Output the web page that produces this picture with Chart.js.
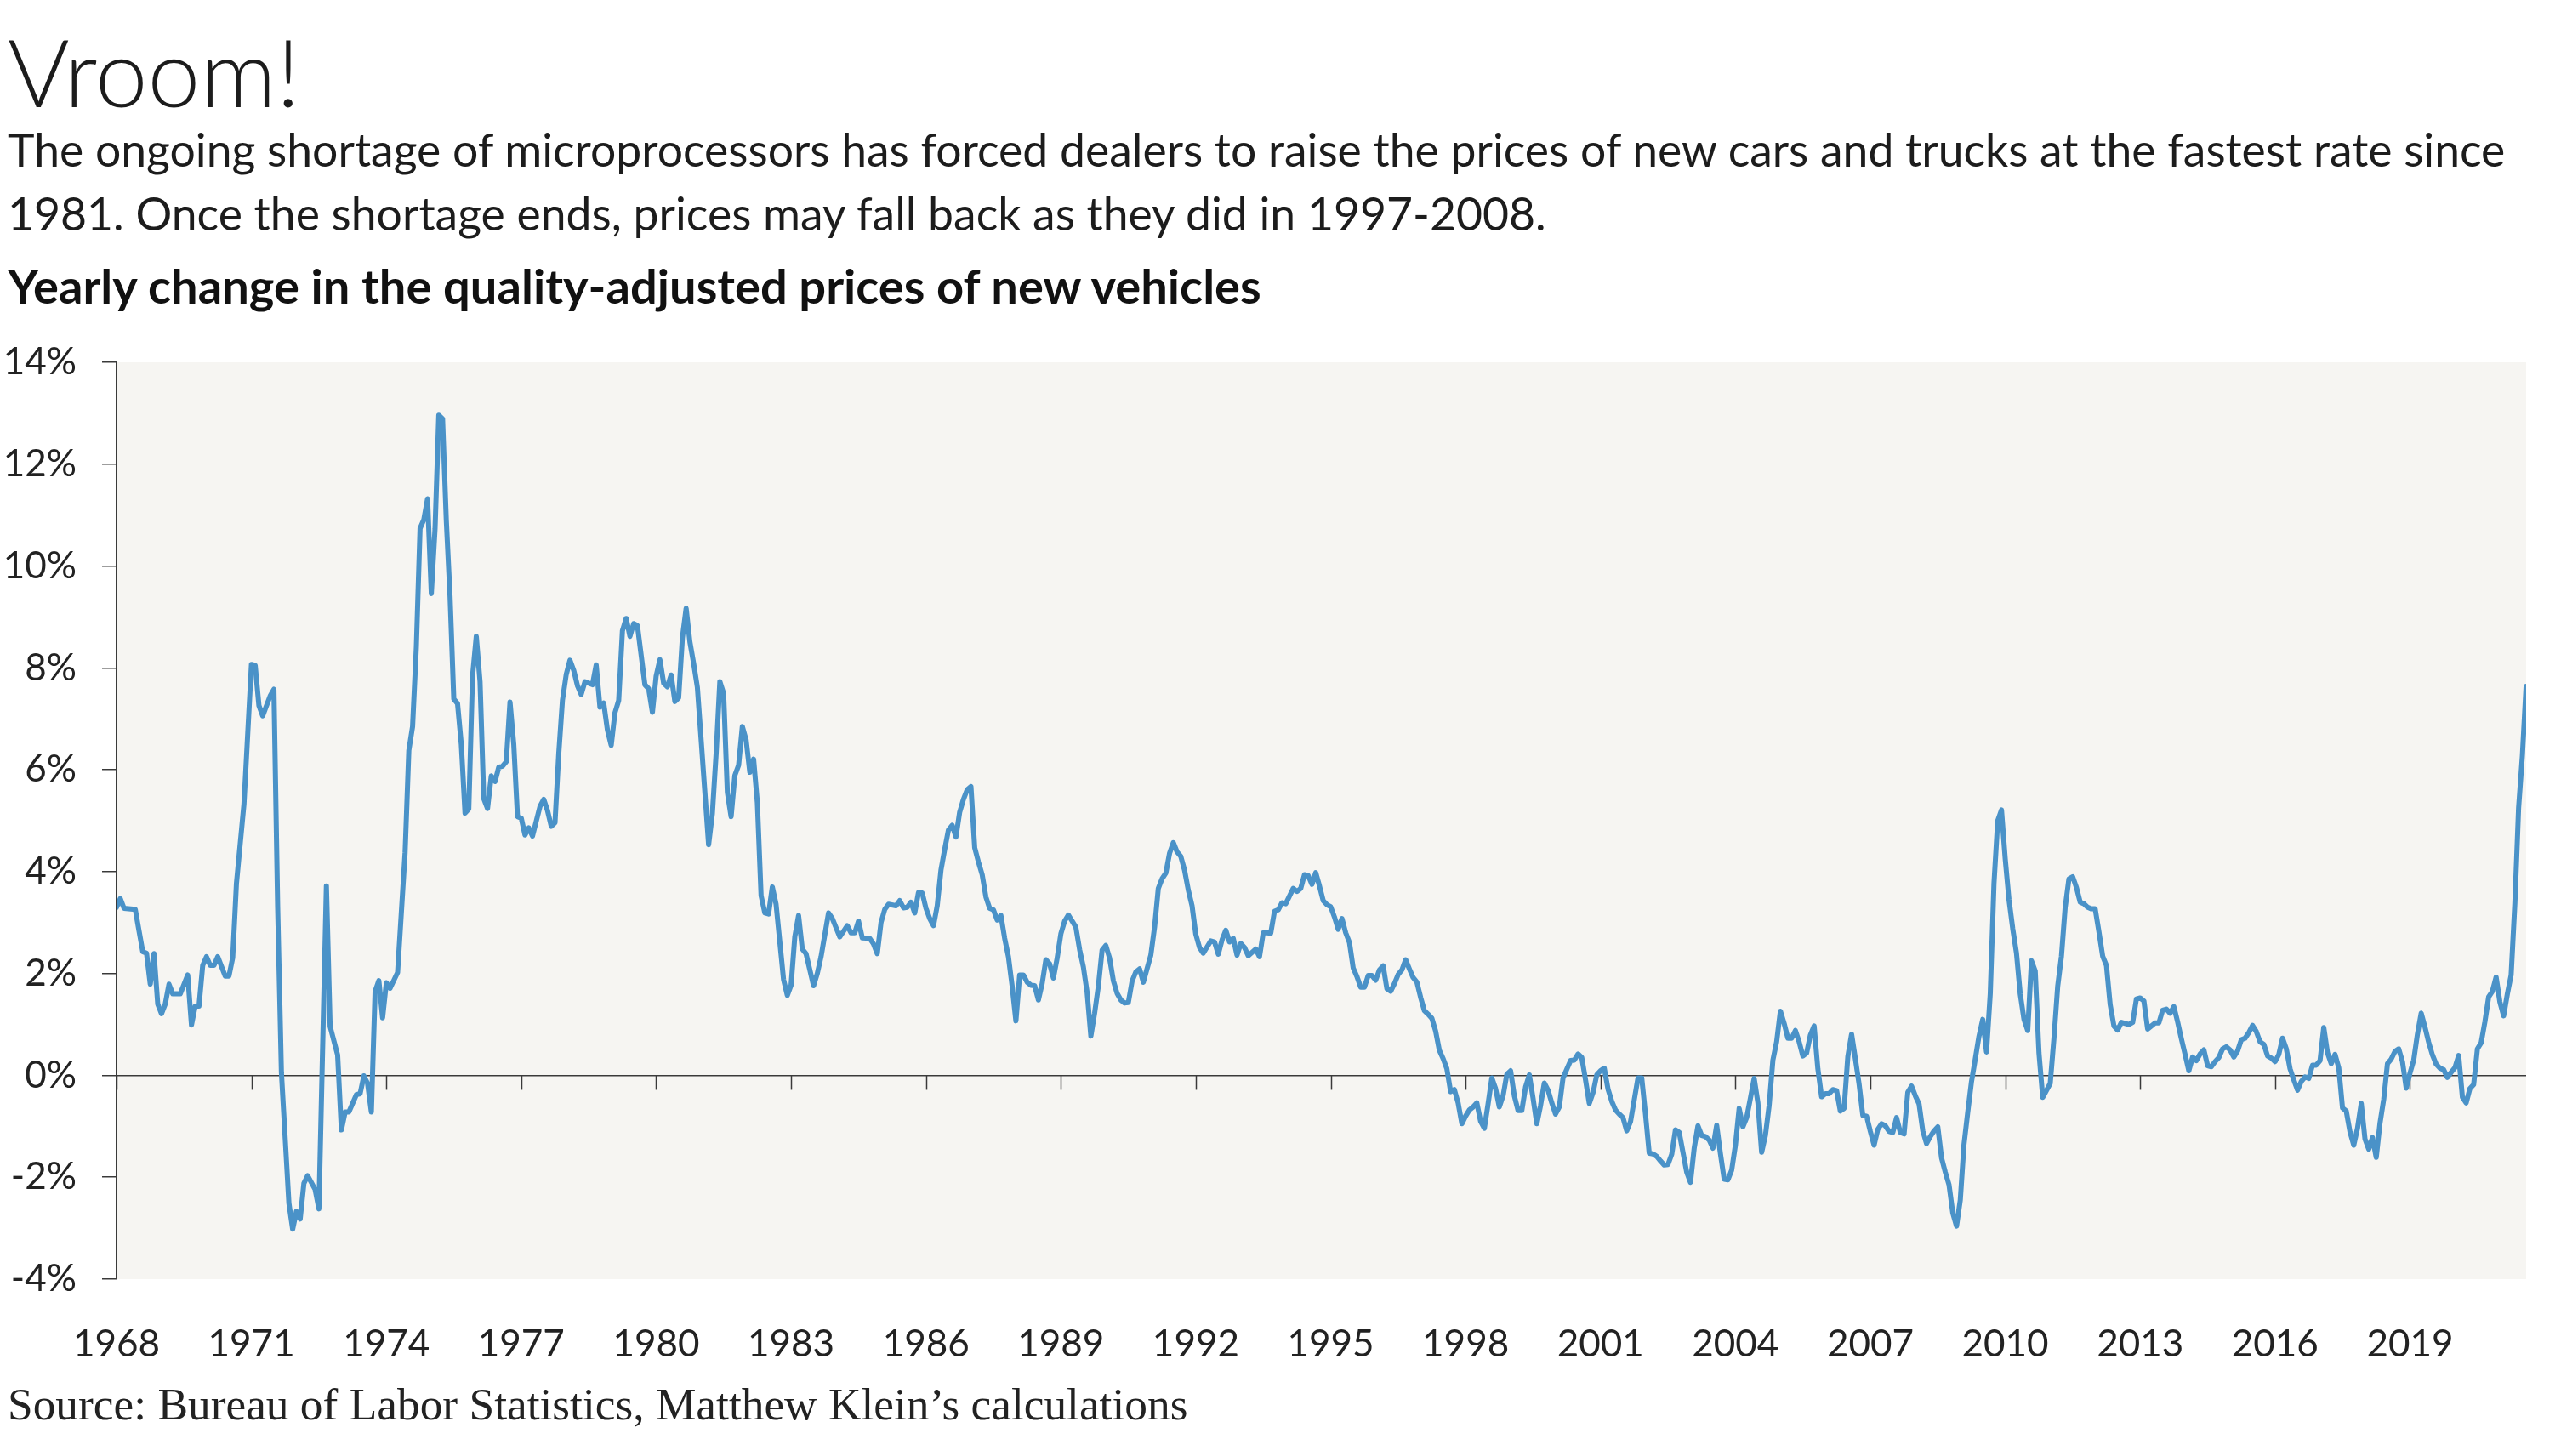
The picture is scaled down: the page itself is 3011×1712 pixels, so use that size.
<!DOCTYPE html>
<html>
<head>
<meta charset="utf-8">
<script src="https://cdn.jsdelivr.net/npm/chart.js@4.4.1/dist/chart.umd.min.js"></script>
<style>
  html, body { margin: 0; padding: 0; background: #fff; }
  body { width: 3011px; height: 1712px; position: relative; overflow: hidden; }
  #chart { position: absolute; left: 0; top: 0; }
  .txt { position: absolute; left: 9px; white-space: nowrap; color: #1c1c1c; font-family: Lato, sans-serif; z-index: 2; }
</style>
</head>
<body>
<canvas id="chart" width="3011" height="1712"></canvas>
<div class="txt" id="title" style="font-weight: 300;">Vroom!</div>
<div class="txt" id="sub1">The ongoing shortage of microprocessors has forced dealers to raise the prices of new cars and trucks at the fastest rate since</div>
<div class="txt" id="sub2">1981. Once the shortage ends, prices may fall back as they did in 1997-2008.</div>
<div class="txt" id="chartTitle" style="font-weight: 700; color: #111;">Yearly change in the quality-adjusted prices of new vehicles</div>
<div class="txt" id="source" style="font-family: 'Liberation Serif', serif; color: #222;">Source: Bureau of Labor Statistics, Matthew Klein’s calculations</div>
<script>
// months counted from Jan 1968 (0) to Aug 2021 (643), only the turning points
const monthIndex = [
  0, 1, 2, 5, 6, 7, 8, 9, 10, 11, 12, 13, 14, 15, 17, 19, 20, 21, 22, 23, 24, 25, 26, 27, 29, 30, 31, 32, 34, 36,
  37, 38, 39, 41, 42, 43, 44, 46, 47, 48, 49, 50, 51, 53, 54, 56, 57, 58, 59, 60, 61, 62, 64, 65, 66, 67, 68, 69, 70, 71,
  72, 73, 75, 77, 78, 79, 80, 81, 82, 83, 84, 85, 86, 87, 88, 89, 90, 91, 92, 93, 94, 95, 96, 97, 98, 99, 100, 101, 102, 103,
  104, 105, 106, 107, 108, 109, 110, 111, 113, 114, 115, 116, 117, 118, 119, 120, 121, 122, 123, 124, 125, 127, 128, 129, 130, 131, 132, 133, 134, 135,
  136, 137, 138, 139, 141, 142, 143, 144, 145, 146, 147, 148, 149, 150, 151, 152, 153, 154, 155, 158, 159, 160, 161, 162, 163, 164, 165, 166, 167, 168,
  169, 170, 171, 172, 173, 174, 175, 176, 178, 179, 180, 181, 182, 183, 184, 186, 187, 188, 190, 191, 193, 195, 196, 197, 198, 199, 201, 202, 203, 204,
  205, 206, 208, 209, 210, 211, 212, 213, 214, 215, 216, 217, 218, 219, 220, 221, 222, 223, 224, 225, 226, 227, 228, 229, 230, 231, 232, 233, 234, 235,
  236, 237, 238, 239, 240, 241, 242, 243, 244, 245, 246, 247, 248, 249, 250, 251, 252, 253, 254, 256, 257, 258, 259, 260, 261, 262, 263, 264, 265, 266,
  267, 268, 269, 270, 271, 272, 273, 274, 276, 277, 278, 279, 280, 281, 282, 283, 284, 285, 286, 287, 288, 289, 290, 291, 292, 293, 294, 295, 296, 297,
  298, 299, 300, 301, 302, 304, 305, 306, 307, 308, 309, 310, 311, 312, 314, 315, 316, 317, 318, 319, 320, 321, 322, 323, 324, 325, 326, 327, 328, 329,
  330, 331, 332, 333, 334, 335, 336, 337, 338, 339, 340, 341, 342, 343, 344, 345, 346, 347, 348, 349, 350, 351, 352, 353, 354, 355, 356, 357, 358, 359,
  360, 361, 362, 363, 364, 365, 366, 367, 368, 369, 370, 371, 372, 373, 374, 375, 376, 377, 378, 379, 380, 381, 382, 383, 384, 385, 386, 387, 388, 389,
  390, 391, 392, 393, 394, 395, 396, 397, 398, 399, 400, 401, 402, 403, 404, 405, 406, 407, 408, 409, 410, 411, 412, 413, 414, 415, 416, 417, 418, 419,
  420, 421, 422, 423, 424, 425, 426, 427, 428, 429, 430, 431, 432, 433, 434, 435, 436, 437, 438, 439, 440, 441, 442, 443, 444, 445, 446, 447, 448, 449,
  450, 451, 452, 453, 454, 455, 456, 457, 458, 459, 460, 461, 462, 463, 464, 465, 466, 467, 468, 469, 470, 471, 472, 473, 474, 475, 476, 477, 478, 479,
  480, 481, 482, 483, 484, 485, 486, 487, 488, 489, 490, 491, 492, 493, 494, 495, 496, 497, 498, 499, 500, 501, 502, 503, 504, 505, 506, 507, 508, 509,
  510, 511, 512, 513, 514, 516, 517, 518, 519, 520, 521, 522, 523, 524, 525, 526, 527, 528, 529, 530, 531, 532, 533, 534, 535, 536, 537, 538, 539, 540,
  541, 542, 543, 544, 545, 546, 547, 548, 549, 550, 551, 552, 553, 554, 555, 556, 557, 558, 559, 560, 561, 562, 563, 564, 565, 566, 567, 568, 569, 570,
  571, 572, 573, 574, 575, 576, 577, 578, 579, 580, 581, 582, 583, 584, 585, 586, 587, 588, 589, 590, 591, 592, 593, 594, 595, 596, 597, 598, 599, 600,
  601, 602, 603, 604, 605, 606, 607, 608, 609, 610, 611, 612, 613, 614, 615, 616, 617, 618, 619, 620, 621, 622, 623, 624, 625, 626, 627, 628, 629, 630,
  631, 632, 633, 634, 635, 636, 637, 638, 639, 640, 641, 642, 643
];

const changePct = [
  3.30, 3.47, 3.28, 3.26, 2.84, 2.43, 2.40, 1.79, 2.39, 1.40, 1.21, 1.40, 1.79, 1.60, 1.60, 1.97, 0.99, 1.36, 1.36, 2.16, 2.33, 2.16, 2.16, 2.33, 1.95, 1.95, 2.31, 3.77, 5.32, 8.07,
  8.05, 7.26, 7.06, 7.45, 7.58, 3.30, 0.05, -2.51, -3.02, -2.67, -2.82, -2.12, -1.97, -2.24, -2.62, 3.72, 0.96, 0.68, 0.40, -1.07, -0.72, -0.72, -0.38, -0.36, -0.01, -0.16, -0.72, 1.65, 1.86, 1.13,
  1.82, 1.71, 2.02, 4.37, 6.38, 6.85, 8.40, 10.74, 10.91, 11.32, 9.46, 10.74, 12.96, 12.89, 10.90, 9.40, 7.39, 7.30, 6.50, 5.15, 5.23, 7.84, 8.62, 7.73, 5.43, 5.24, 5.88, 5.77, 6.05, 6.07,
  6.16, 7.33, 6.50, 5.08, 5.05, 4.72, 4.86, 4.70, 5.28, 5.42, 5.20, 4.89, 4.96, 6.31, 7.37, 7.87, 8.15, 7.95, 7.65, 7.48, 7.73, 7.67, 8.06, 7.23, 7.31, 6.78, 6.48, 7.12, 7.36, 8.73,
  8.97, 8.62, 8.87, 8.83, 7.67, 7.59, 7.13, 7.84, 8.16, 7.70, 7.63, 7.86, 7.34, 7.41, 8.59, 9.17, 8.51, 8.09, 7.62, 4.53, 5.14, 6.31, 7.73, 7.50, 5.56, 5.08, 5.89, 6.09, 6.85, 6.59,
  5.95, 6.21, 5.36, 3.53, 3.19, 3.17, 3.70, 3.36, 1.88, 1.57, 1.77, 2.72, 3.14, 2.48, 2.39, 1.76, 2.00, 2.33, 3.19, 3.08, 2.72, 2.94, 2.80, 2.80, 3.03, 2.70, 2.69, 2.58, 2.39, 3.00,
  3.26, 3.36, 3.33, 3.43, 3.29, 3.30, 3.40, 3.19, 3.59, 3.58, 3.28, 3.08, 2.94, 3.33, 4.03, 4.44, 4.82, 4.91, 4.68, 5.17, 5.42, 5.61, 5.67, 4.47, 4.19, 3.94, 3.50, 3.28, 3.25, 3.05,
  3.14, 2.69, 2.33, 1.75, 1.07, 1.97, 1.97, 1.83, 1.77, 1.76, 1.48, 1.80, 2.27, 2.19, 1.91, 2.30, 2.78, 3.03, 3.15, 2.91, 2.47, 2.13, 1.63, 0.77, 1.22, 1.75, 2.46, 2.55, 2.30, 1.86,
  1.61, 1.48, 1.42, 1.43, 1.85, 2.03, 2.09, 1.83, 2.36, 2.91, 3.67, 3.86, 3.97, 4.36, 4.57, 4.39, 4.30, 4.03, 3.64, 3.33, 2.77, 2.51, 2.40, 2.52, 2.64, 2.62, 2.38, 2.66, 2.85, 2.62,
  2.69, 2.36, 2.59, 2.51, 2.35, 2.48, 2.33, 2.80, 2.80, 2.79, 3.22, 3.25, 3.39, 3.37, 3.67, 3.61, 3.67, 3.94, 3.92, 3.75, 3.98, 3.72, 3.43, 3.35, 3.31, 3.11, 2.87, 3.08, 2.80, 2.61,
  2.11, 1.94, 1.73, 1.73, 1.96, 1.96, 1.87, 2.07, 2.15, 1.70, 1.65, 1.80, 1.98, 2.07, 2.27, 2.09, 1.92, 1.83, 1.53, 1.27, 1.20, 1.12, 0.87, 0.49, 0.33, 0.13, -0.32, -0.28, -0.54, -0.95,
  -0.80, -0.68, -0.62, -0.54, -0.90, -1.04, -0.56, -0.05, -0.26, -0.62, -0.40, 0.02, 0.09, -0.40, -0.69, -0.69, -0.23, 0.01, -0.45, -0.95, -0.59, -0.15, -0.29, -0.54, -0.76, -0.62, -0.05, 0.12, 0.29, 0.30,
  0.42, 0.35, -0.09, -0.55, -0.34, 0.01, 0.09, 0.14, -0.27, -0.51, -0.68, -0.76, -0.83, -1.09, -0.91, -0.48, -0.05, -0.05, -0.76, -1.53, -1.54, -1.59, -1.68, -1.76, -1.75, -1.55, -1.07, -1.12, -1.51, -1.90,
  -2.10, -1.43, -0.99, -1.18, -1.20, -1.27, -1.43, -0.98, -1.54, -2.04, -2.05, -1.86, -1.37, -0.65, -1.01, -0.83, -0.45, -0.06, -0.54, -1.51, -1.18, -0.59, 0.30, 0.66, 1.26, 1.02, 0.73, 0.73, 0.88, 0.66,
  0.38, 0.44, 0.79, 0.97, 0.13, -0.42, -0.36, -0.36, -0.28, -0.30, -0.70, -0.65, 0.37, 0.81, 0.33, -0.17, -0.79, -0.80, -1.10, -1.37, -1.06, -0.95, -0.99, -1.10, -1.12, -0.83, -1.12, -1.15, -0.33, -0.21,
  -0.40, -0.56, -1.09, -1.34, -1.20, -1.09, -1.01, -1.62, -1.90, -2.15, -2.70, -2.96, -2.45, -1.35, -0.72, -0.12, 0.32, 0.77, 1.10, 0.46, 1.60, 3.77, 5.00, 5.21, 4.25, 3.45, 2.88, 2.40, 1.60, 1.10,
  0.88, 2.25, 2.05, 0.44, -0.43, -0.16, 0.73, 1.75, 2.34, 3.30, 3.86, 3.90, 3.69, 3.40, 3.37, 3.30, 3.27, 3.27, 2.82, 2.34, 2.16, 1.39, 0.97, 0.89, 1.04, 1.02, 1.00, 1.04, 1.50, 1.52,
  1.46, 0.91, 0.97, 1.03, 1.03, 1.28, 1.30, 1.22, 1.35, 1.05, 0.72, 0.41, 0.09, 0.36, 0.29, 0.42, 0.50, 0.19, 0.17, 0.27, 0.35, 0.52, 0.56, 0.50, 0.36, 0.48, 0.70, 0.73, 0.84, 0.98,
  0.86, 0.66, 0.61, 0.38, 0.34, 0.27, 0.41, 0.73, 0.52, 0.13, -0.09, -0.29, -0.12, -0.03, -0.06, 0.20, 0.20, 0.29, 0.94, 0.44, 0.23, 0.41, 0.15, -0.64, -0.70, -1.11, -1.37, -1.04, -0.55, -1.25,
  -1.45, -1.22, -1.61, -0.94, -0.47, 0.23, 0.32, 0.47, 0.52, 0.27, -0.25, 0.04, 0.30, 0.81, 1.22, 0.95, 0.65, 0.40, 0.22, 0.14, 0.11, -0.04, 0.06, 0.15, 0.39, -0.43, -0.54, -0.26, -0.18, 0.52,
  0.64, 1.05, 1.54, 1.65, 1.93, 1.44, 1.17, 1.60, 1.97, 3.38, 5.26, 6.28, 7.64
];

const yearTicks = [1968, 1971, 1974, 1977, 1980, 1983, 1986, 1989, 1992, 1995, 1998, 2001, 2004, 2007, 2010, 2013, 2016, 2019];
const firstYear = 1968;
const lastMonth = 643;
const yMin = -4;
const yMax = 14;
const yStep = 2;

const AXIS_COLOR = "#3a3a3a";
const LINE_COLOR = "#4a92c8";

function placeText(id, targetWidth, baseline, sizeFrom) {
  const el = document.getElementById(id);
  const cs = getComputedStyle(el);
  const m = document.createElement("canvas").getContext("2d");
  m.font = `${cs.fontWeight} 100px ${cs.fontFamily}`;
  const met = m.measureText(el.textContent);
  const size = sizeFrom || (100 * targetWidth) / met.width;
  const asc = (met.fontBoundingBoxAscent / 100) * size;
  const desc = (met.fontBoundingBoxDescent / 100) * size;
  el.style.fontSize = size + "px";
  el.style.lineHeight = asc + desc + "px";
  el.style.top = baseline - asc + "px";
  return size;
}

const plotBackground = {
  id: "plotBackground",
  beforeDraw(chart) {
    const { ctx, chartArea: a } = chart;
    ctx.save();
    ctx.fillStyle = "#f6f5f2";
    ctx.fillRect(a.left, a.top, a.right - a.left, a.bottom - a.top);
    ctx.restore();
  },
};

// the year ticks hang from the 0% line, not from the bottom
const zeroLineTicks = {
  id: "zeroLineTicks",
  beforeDatasetsDraw(chart) {
    const { ctx, scales } = chart;
    const y0 = scales.y.getPixelForValue(0);
    ctx.save();
    ctx.strokeStyle = AXIS_COLOR;
    ctx.lineWidth = 1.5;
    scales.x.ticks.forEach((t) => {
      const px = Math.round(scales.x.getPixelForValue(t.value)) + 0.5;
      ctx.beginPath();
      ctx.moveTo(px, y0);
      ctx.lineTo(px, y0 + 17);
      ctx.stroke();
    });
    ctx.restore();
  },
};

function drawChart() {
  const ctx = document.getElementById("chart").getContext("2d");
  const tickFont = { family: "Lato", size: 44 };

  new Chart(ctx, {
    type: "line",
    data: {
      datasets: [
        {
          data: monthIndex.map((m, i) => ({ x: m, y: changePct[i] })),
          borderColor: LINE_COLOR,
          borderWidth: 6,
          borderJoinStyle: "round",
          borderCapStyle: "round",
          pointRadius: 0,
          tension: 0,
          fill: false,
        },
      ],
    },
    options: {
      responsive: false,
      animation: false,
      devicePixelRatio: 1,
      layout: { padding: { left: 0, top: 426, right: 41, bottom: 0 } },
      plugins: { legend: { display: false }, tooltip: { enabled: false } },
      scales: {
        x: {
          type: "linear",
          min: 0,
          max: lastMonth,
          afterBuildTicks(scale) {
            scale.ticks = yearTicks.map((y) => ({ value: (y - firstYear) * 12 }));
          },
          afterFit(scale) {
            scale.height = 208;
          },
          ticks: {
            autoSkip: false,
            maxRotation: 0,
            padding: 50,
            color: "#222",
            font: tickFont,
            callback(value) {
              return String(firstYear + value / 12);
            },
          },
          grid: { display: false, drawTicks: false },
          border: { display: false },
        },
        y: {
          min: yMin,
          max: yMax,
          afterFit(scale) {
            scale.width = 137;
          },
          ticks: {
            stepSize: yStep,
            padding: 30,
            color: "#222",
            font: tickFont,
            callback(value) {
              return value + "%";
            },
          },
          grid: {
            color: (c) => (c.tick && c.tick.value === 0 ? AXIS_COLOR : "rgba(0,0,0,0)"),
            lineWidth: 1.5,
            tickLength: 17,
            tickColor: AXIS_COLOR,
            tickWidth: 1.5,
          },
          border: { display: true, color: AXIS_COLOR, width: 1.5 },
        },
      },
    },
    plugins: [plotBackground, zeroLineTicks],
  });
}

placeText("title", 344, 127);
const subSize = placeText("sub1", 2940, 196);
placeText("sub2", 0, 271, subSize);
placeText("chartTitle", 1479, 358);
placeText("source", 1388, 1670);
drawChart();
</script>
</body>
</html>
